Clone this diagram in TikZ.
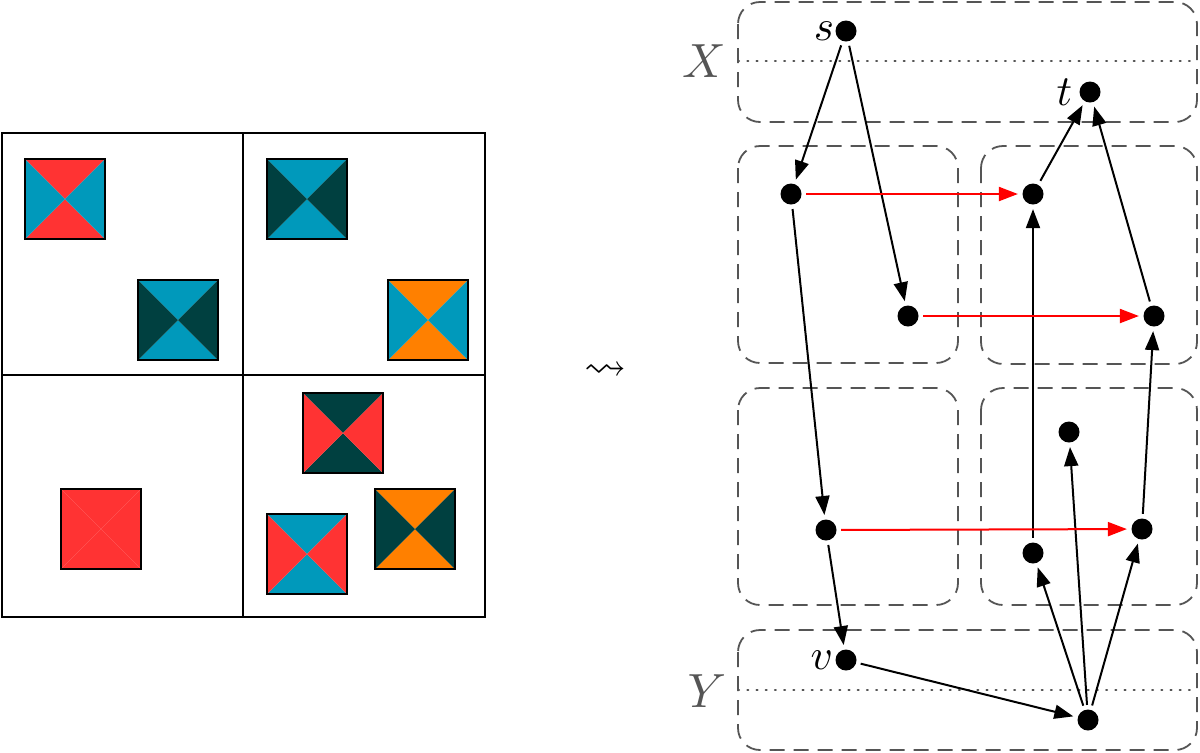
\documentclass[tikz,border=0pt]{standalone}
\usepackage{amssymb}
\usetikzlibrary{arrows.meta}
\definecolor{tred}{HTML}{FF3333}
\definecolor{tblue}{HTML}{0099BB}
\definecolor{tdark}{HTML}{004040}
\definecolor{torange}{HTML}{FF8000}
\definecolor{boxgrey}{HTML}{555555}
\newcommand\tilesq[4]{%
\begin{scope}[shift={(#1,#2)}]
 \fill[#3] (0,0)--(80,0)--(40,40)--cycle;
 \fill[#3] (0,80)--(80,80)--(40,40)--cycle;
 \fill[#4] (0,0)--(0,80)--(40,40)--cycle;
 \fill[#4] (80,0)--(80,80)--(40,40)--cycle;
 \draw[line width=1pt] (0,0) rectangle (80,80);
\end{scope}}
\tikzset{
  grp/.style={draw=boxgrey, dash pattern=on 7.5pt off 4.5pt, line width=0.9pt, rounded corners=11pt},
  sep/.style={boxgrey, dash pattern=on 0.6pt off 4pt, line cap=round, line width=0.9pt},
  dot/.style={circle, fill=black, inner sep=0pt, minimum size=10.5pt, outer sep=2.3pt},
  lbl/.style={inner sep=0pt, scale=2.15},
  glbl/.style={inner sep=0pt, text=boxgrey, scale=2.4},
  edge/.style={-{Triangle[length=9.5pt,width=7pt]}, line width=1pt},
  redge/.style={edge, red},
  gridline/.style={line width=0.9pt}
}
\begin{document}
\begin{tikzpicture}[x=0.5pt, y=-0.5pt]
\useasboundingbox (0,0) rectangle (1200,752);
% left grid
\tilesq{25}{159}{tred}{tblue}
\tilesq{138}{280}{tblue}{tdark}
\tilesq{267}{159}{tblue}{tdark}
\tilesq{388}{280}{torange}{tblue}
\tilesq{61}{489}{tred}{tred}
\tilesq{303}{393}{tdark}{tred}
\tilesq{375}{489}{torange}{tdark}
\tilesq{267}{514}{tblue}{tred}
\draw[gridline] (2,133) rectangle (485,617);
\draw[gridline] (243,133) -- (243,617);
\draw[gridline] (2,375) -- (485,375);
% squiggle
\node[inner sep=0pt, scale=2.1] (sq) at (605,372) {$\rightsquigarrow$};
% groups
\draw[grp] (738,2) rectangle (1197,122);
\draw[grp] (738,146) rectangle (958,363);
\draw[grp] (981,146) rectangle (1197,364);
\draw[grp] (738,388) rectangle (958,605);
\draw[grp] (981,388) rectangle (1197,605);
\draw[grp] (738,630) rectangle (1197,750);
\draw[sep] (738,61) -- (1197,61);
\draw[sep] (738,690) -- (1197,690);
\node[glbl] (X) at (704,61) {$X$};
\node[glbl] (Y) at (707,691) {$Y$};
% vertices
\node[dot] (s) at (846,31) {};
\node[dot] (t) at (1090,92) {};
\node[dot] (a) at (791,194) {};
\node[dot] (b) at (908,316) {};
\node[dot] (c) at (1033,194) {};
\node[dot] (d) at (1154,316) {};
\node[dot] (e) at (1069,432) {};
\node[dot] (f) at (826,530) {};
\node[dot] (g) at (1033,553) {};
\node[dot] (h) at (1142,529) {};
\node[dot] (v) at (846,660) {};
\node[dot] (w) at (1088,720) {};
\node[lbl, anchor=east] (sl) at ([xshift=2pt]s.west) {$s$};
\node[lbl, anchor=east] (tl) at ([xshift=-1pt]t.west) {$t$};
\node[lbl, anchor=east] (vl) at ([xshift=1.5pt]v.west) {$v$};
% edges
\draw[edge] (s) -- (a);
\draw[edge] (s) -- (b);
\draw[edge] (a) -- (f);
\draw[edge] (f) -- (v);
\draw[edge] (v) -- (w);
\draw[edge] (c) -- (t);
\draw[edge] (d) -- (t);
\draw[edge] (g) -- (c);
\draw[edge] (h) -- (d);
\draw[edge] (w) -- (g);
\draw[edge] (w) -- (e);
\draw[edge] (w) -- (h);
\draw[redge] (a) -- (c);
\draw[redge] (b) -- (d);
\draw[redge] (f) -- (h);
\end{tikzpicture}
\end{document}
